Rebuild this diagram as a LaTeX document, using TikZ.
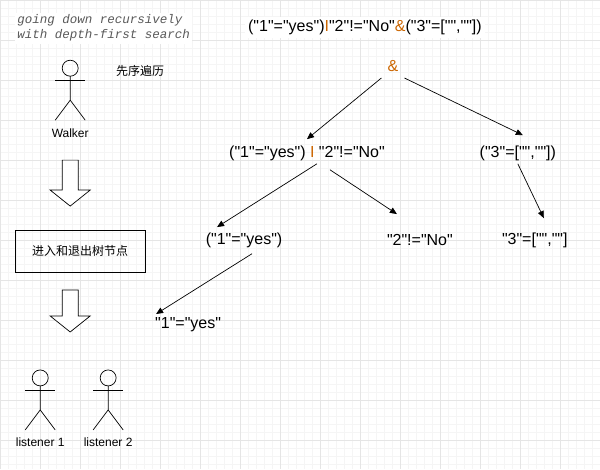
\documentclass[tikz,border=0pt]{standalone}
\usepackage{fontspec}
\setmainfont{Liberation Sans}[Ligatures=TeXOff]
\newfontfamily\cjk{Noto Sans CJK SC}
\newfontfamily\monoit{Liberation Mono}
\usetikzlibrary{arrows.meta}
\definecolor{amp}{RGB}{204,102,0}
\newcommand\q{"}
\begin{document}
\begin{tikzpicture}[x=1pt,y=-1pt,
  lbl/.style={inner sep=1pt,font=\fontsize{16}{18}\selectfont},
  small/.style={inner sep=1pt,font=\fontsize{12}{14}\selectfont},
  edge/.style={-{Triangle[length=7pt,width=6pt]},line width=0.7pt},
  hollow/.style={draw,line width=0.7pt}]
\fill[white] (0,0) rectangle (600,469);
\foreach \i in {0,8,...,600} \draw[gray!8,line width=0.4pt] (\i,0) -- (\i,469);
\foreach \i in {0,8,...,469} \draw[gray!8,line width=0.4pt] (0,\i) -- (600,\i);
\foreach \i in {0,40,...,600} \draw[gray!20,line width=0.5pt] (\i,0) -- (\i,469);
\foreach \i in {0,40,...,469} \draw[gray!20,line width=0.5pt] (0,\i) -- (600,\i);
\useasboundingbox (0,0) rectangle (600,469);
% header
\node[fill=white,inner sep=2pt,align=left,text=gray!70!black,font=\monoit\itshape\fontsize{12.5}{15}\selectfont,anchor=west] (hdr) at (15,28) {going down recursively\\with depth-first search};
% walker
\newcommand\stick[2]{%
  \draw[line width=0.7pt] (#1,#2) circle (8);
  \draw[line width=0.7pt] (#1-15,#2+12) -- (#1+15,#2+12);
  \draw[line width=0.7pt] (#1,#2+8) -- (#1,#2+32) -- (#1-15,#2+52);
  \draw[line width=0.7pt] (#1,#2+32) -- (#1+15,#2+52);}
\stick{70}{68}
\node[small] (walker) at (70,133) {Walker};
\node[small,font=\cjk\fontsize{12}{14}\selectfont] (pre) at (140,71) {先序遍历};
% hollow arrows
\draw[hollow,fill=white] (62,160) -- (78,160) -- (78,190) -- (90,190) -- (70,206) -- (50,190) -- (62,190) -- cycle;
\node[draw,line width=0.7pt,minimum width=130,minimum height=42,font=\cjk\fontsize{12}{14}\selectfont] (box) at (80,251) {进入和退出树节点};
\draw[hollow,fill=white] (62,290) -- (78,290) -- (78,316) -- (90,316) -- (70,332) -- (50,316) -- (62,316) -- cycle;
\stick{40}{378}
\stick{108}{378}
\node[small] (l1) at (40,442) {listener 1};
\node[small] (l2) at (108,442) {listener 2};
% tree
\node[lbl,fill=white,inner sep=3pt] (top) at (365,27) {(\q1\q=\q yes\q)\textcolor{amp}{I}\q2\q!=\q No\q\textcolor{amp}{\&}(\q3\q=[\q\q,\q\q])};
\node[lbl,text=amp] (and) at (393,66) {\&};
\node[lbl] (or) at (307,153) {(\q1\q=\q yes\q) \textcolor{amp}{I} \q2\q!=\q No\q};
\node[lbl] (three) at (518,153) {(\q3\q=[\q\q,\q\q])};
\node[lbl] (one) at (244,240) {(\q1\q=\q yes\q)};
\node[lbl] (two) at (420,240) {\q2\q!=\q No\q};
\node[lbl] (threeb) at (535,240) {\q3\q=[\q\q,\q\q]};
\node[lbl] (oneb) at (188,325) {\q1\q=\q yes\q};
\draw[edge] (and.south west)++(-5,5) coordinate (a1) -- (307,139);
\draw[edge] (and.south east)++(5,5) coordinate (a2) -- (523,135);
\draw[edge] (or.south)++(10,2) coordinate (b1) -- (217,227);
\draw[edge] (or.south)++(23,8) coordinate (b2) -- (397,214);
\draw[edge] (three.south)++(0,2) coordinate (c1) -- (544,218);
\draw[edge] (one.south)++(8,5) coordinate (d1) -- (156,314);
\end{tikzpicture}
\end{document}
